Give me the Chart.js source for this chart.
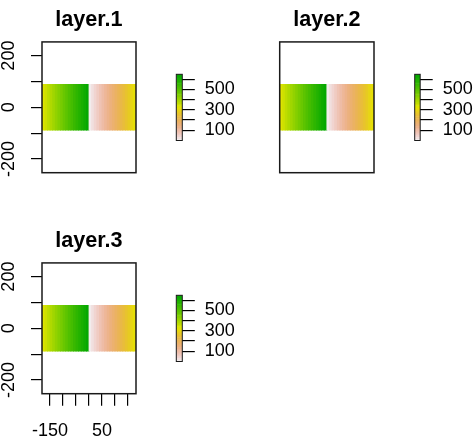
<!DOCTYPE html>
<html><head><meta charset="utf-8">
<script src="https://cdn.jsdelivr.net/npm/chart.js@4.4.0/dist/chart.umd.min.js"></script>
<style>
html,body{margin:0;padding:0;background:#fff;width:474px;height:440px;overflow:hidden;position:relative;}
canvas{position:absolute;}
</style></head><body>
<canvas id="map1" width="178" height="200" style="left:0px;top:0px"></canvas>
<canvas id="leg1" width="77" height="200" style="left:160px;top:0px"></canvas>
<canvas id="map2" width="180" height="200" style="left:237px;top:0px"></canvas>
<canvas id="leg2" width="76" height="200" style="left:398px;top:0px"></canvas>
<canvas id="map3" width="178" height="219" style="left:0px;top:221px"></canvas>
<canvas id="leg3" width="77" height="200" style="left:160px;top:221px"></canvas>
<script>
// ---- data ----
const layerTitles = ['layer.1', 'layer.2', 'layer.3'];
const lonCenters = [-175,-165,-155,-145,-135,-125,-115,-105,-95,-85,-75,-65,-55,-45,-35,-25,-15,-5,
                    5,15,25,35,45,55,65,75,85,95,105,115,125,135,145,155,165,175];
const latRange = [-90, 90];
const layer1Values = [333,351,369,387,405,423,441,459,477,495,513,531,549,567,585,603,621,639,
                      9,27,45,63,81,99,117,135,153,171,189,207,225,243,261,279,297,315];
const layer2Values = [333,351,369,387,405,423,441,459,477,495,513,531,549,567,585,603,621,639,
                      9,27,45,63,81,99,117,135,153,171,189,207,225,243,261,279,297,315];
const layer3Values = [333,351,369,387,405,423,441,459,477,495,513,531,549,567,585,603,621,639,
                      9,27,45,63,81,99,117,135,153,171,189,207,225,243,261,279,297,315];
const valueMin = 1, valueMax = 648;
const legendLevels = [9,27,45,63,81,99,117,135,153,171,189,207,225,243,261,279,297,315,
                      333,351,369,387,405,423,441,459,477,495,513,531,549,567,585,603,621,639];
const legendTickValues = [100,200,300,400,500,600];
const legendTickLabels = ['100','','300','','500',''];
const yTickValues = [-200,-100,0,100,200];
const yTickLabels = ['-200','','0','','200'];
const xTickValues = [-150,-100,-50,0,50,100,150];
const xTickLabels = ['-150','','','','50','',''];

// ---- styling ----
const FONT = '"Liberation Sans", Arial, Helvetica, sans-serif';
const tickFont = {family: FONT, size: 18};

function terrainColor(v){
  const t = Math.min(1, Math.max(0, (v - valueMin) / (valueMax - valueMin)));
  const u = 1 - t;
  let h, s, val;
  if (u <= 0.5) { const f = u / 0.5; h = 1/3 + (1/6 - 1/3) * f; s = 1; val = 0.65 + 0.25 * f; }
  else { const f = (u - 0.5) / 0.5; h = (1/6) * (1 - f); s = 1 - f; val = 0.9 + 0.05 * f; }
  const h6 = h * 6 + 1e-9;
  const i = Math.floor(h6), ff = h6 - i;
  const p = val * (1 - s), q = val * (1 - ff * s), tt = val * (1 - (1 - ff) * s);
  let r, g, b;
  switch (i % 6) {
    case 0: r = val; g = tt; b = p; break;
    case 1: r = q; g = val; b = p; break;
    case 2: r = p; g = val; b = tt; break;
    case 3: r = p; g = q; b = val; break;
    case 4: r = tt; g = p; b = val; break;
    default: r = val; g = p; b = q;
  }
  return 'rgb(' + Math.round(r*255) + ',' + Math.round(g*255) + ',' + Math.round(b*255) + ')';
}

const frameBox = {
  id: 'frameBox',
  afterDatasetsDraw(chart, args, opts) {
    const {ctx, chartArea: a} = chart;
    ctx.save();
    ctx.strokeStyle = opts.color || '#111';
    ctx.lineWidth = opts.width || 1;
    ctx.strokeRect(a.left, a.top, a.right - a.left, a.bottom - a.top);
    ctx.restore();
  }
};

function makeMap(id, values, title, showY, showX, pad) {
  const scales = {
    x: {
      type: 'linear', min: -181, max: 181, offset: false, display: showX,
      afterBuildTicks: s => { s.ticks = xTickValues.map(v => ({value: v})); },
      ticks: {callback: v => xTickLabels[xTickValues.indexOf(v)], font: tickFont, color: '#000',
              padding: 15, autoSkip: false, maxRotation: 0, minRotation: 0},
      grid: {drawOnChartArea: false, drawTicks: true, tickLength: 12, color: '#000', lineWidth: 1.2, offset: false},
      border: {display: false},
      afterFit: s => { if (showX) s.height = 46.3; }
    },
    y: {
      type: 'linear', min: -253, max: 253, offset: false, display: showY,
      afterBuildTicks: s => { s.ticks = yTickValues.map(v => ({value: v})); },
      ticks: {callback: v => yTickLabels[yTickValues.indexOf(v)], font: tickFont, color: '#000',
              padding: 4, autoSkip: false, minRotation: 90, maxRotation: 90, crossAlign: 'center'},
      grid: {drawOnChartArea: false, drawTicks: true, tickLength: 11, color: '#000', lineWidth: 1.2, offset: false},
      border: {display: false},
      afterFit: s => { if (showY) s.width = 42; }
    }
  };
  if (showY) {
    // empty right-hand margin so the title stays centred over the plot box
    scales.yMargin = {
      type: 'linear', position: 'right', display: true,
      ticks: {display: false}, grid: {display: false}, border: {display: false},
      afterFit: s => { s.width = 41.7; }
    };
  }
  new Chart(document.getElementById(id), {
    type: 'bar',
    data: {
      datasets: [{
        data: lonCenters.map((x, i) => ({x: x, y: latRange})),
        backgroundColor: values.map(terrainColor),
        borderWidth: 0,
        barPercentage: 1.3,
        categoryPercentage: 1,
        xAxisID: 'x', yAxisID: 'y'
      }]
    },
    options: {
      responsive: false, animation: false, events: [],
      layout: {padding: pad},
      plugins: {
        legend: {display: false}, tooltip: {enabled: false},
        title: {display: true, text: title, color: '#000',
                font: {family: FONT, size: 21.6, weight: 'bold'},
                padding: {top: 7, bottom: 9}},
        frameBox: {color: '#1a1a1a', width: 1.5}
      },
      scales: scales
    },
    plugins: [frameBox]
  });
}

function makeLegend(id, pad, axisWidth) {
  new Chart(document.getElementById(id), {
    type: 'bar',
    data: {
      datasets: [{
        data: legendLevels.map(v => ({x: [0, 1], y: v})),
        backgroundColor: legendLevels.map(terrainColor),
        borderWidth: 0,
        barPercentage: 1.3,
        categoryPercentage: 1
      }]
    },
    options: {
      indexAxis: 'y',
      responsive: false, animation: false, events: [],
      layout: {padding: pad},
      plugins: {
        legend: {display: false}, tooltip: {enabled: false}, title: {display: false},
        frameBox: {color: '#1a1a1a', width: 1}
      },
      scales: {
        x: {type: 'linear', min: 0, max: 1, display: false, offset: false},
        y: {
          type: 'linear', min: 0, max: 648, position: 'right', offset: false,
          afterBuildTicks: s => { s.ticks = legendTickValues.map(v => ({value: v})); },
          ticks: {callback: v => legendTickLabels[legendTickValues.indexOf(v)], font: tickFont, color: '#000',
                  padding: 10, autoSkip: false, crossAlign: 'near'},
          grid: {drawOnChartArea: false, drawTicks: true, tickLength: 12.5, color: '#000', lineWidth: 1.2, offset: false},
          border: {display: false},
          afterFit: s => { s.width = axisWidth; }
        }
      }
    },
    plugins: [frameBox]
  });
}

makeMap('map1', layer1Values, layerTitles[0], true, false, {left: 0, right: 0.3, top: 0, bottom: 27.3});
makeMap('map2', layer2Values, layerTitles[1], false, false, {left: 42.7, right: 43, top: 0, bottom: 27.3});
makeMap('map3', layer3Values, layerTitles[2], true, true, {left: 0, right: 0.3, top: 0, bottom: 0});
makeLegend('leg1', {left: 16.3, right: 0, top: 74.3, bottom: 59.5}, 54.7);
makeLegend('leg2', {left: 16.7, right: 0, top: 74.3, bottom: 59.5}, 53.8);
makeLegend('leg3', {left: 16.3, right: 0, top: 74.3, bottom: 59.5}, 54.7);
</script>
</body></html>
